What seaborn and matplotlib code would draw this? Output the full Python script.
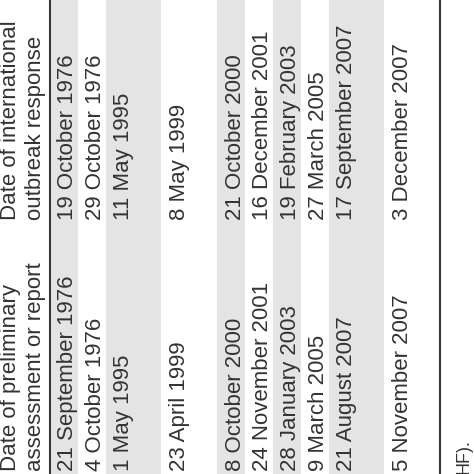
import matplotlib
matplotlib.use("Agg")
import matplotlib.pyplot as plt
import seaborn as sns

header_1 = ["Date of preliminary", "assessment or report"]
header_2 = ["Date of international", "outbreak response"]
assessment = ["21 September 1976", "4 October 1976", "1 May 1995", "23 April 1999",
              "8 October 2000", "24 November 2001", "28 January 2003", "9 March 2005",
              "21 August 2007", "5 November 2007"]
response = ["19 October 1976", "29 October 1976", "11 May 1995", "8 May 1999",
            "21 October 2000", "16 December 2001", "19 February 2003", "27 March 2005",
            "17 September 2007", "3 December 2007"]
row_lines = [1, 1, 2, 2, 1, 1, 1, 1, 2, 2]
footnote = "HF)."

sns.set_theme(style="white")
plt.rcParams["font.family"] = ["Liberation Sans", "DejaVu Sans"]

fig = plt.figure(figsize=(4.74, 4.74), dpi=100)
ax = fig.add_axes([0, 0, 1, 1])
ax.set_xlim(0, 474)
ax.set_ylim(474, 0)
ax.axis("off")

txt = "#333333"
fs = 16
col1_y, col2_y = 471, 220

# header
for y0, lines in [(col1_y, header_1), (col2_y, header_2)]:
    ax.text(11, y0, lines[0], rotation=90, fontsize=fs, color=txt, ha="center", va="bottom")
    ax.text(36, y0, lines[1], rotation=90, fontsize=fs, color=txt, ha="center", va="bottom")

top, bottom = 50, 440
unit = (bottom - top) / sum(row_lines)
x = top
for i, (a, r, n) in enumerate(zip(assessment, response, row_lines)):
    w = n * unit
    if i % 2 == 0:
        ax.axvspan(x, x + w, color="#e4e4e4", lw=0, zorder=0)
    cx = x + unit / 2 + 4
    ax.text(cx, col1_y, a, rotation=90, fontsize=fs, color=txt, ha="center", va="bottom")
    ax.text(cx, col2_y, r, rotation=90, fontsize=fs, color=txt, ha="center", va="bottom")
    x += w

ax.axvline(top, color="#3a3a3a", lw=1.5)
ax.axvline(bottom, color="#3a3a3a", lw=1.5)
ax.text(464, 474, footnote, rotation=90, fontsize=fs - 3, color=txt, ha="center", va="bottom")

fig.savefig("out.png", dpi=100)
